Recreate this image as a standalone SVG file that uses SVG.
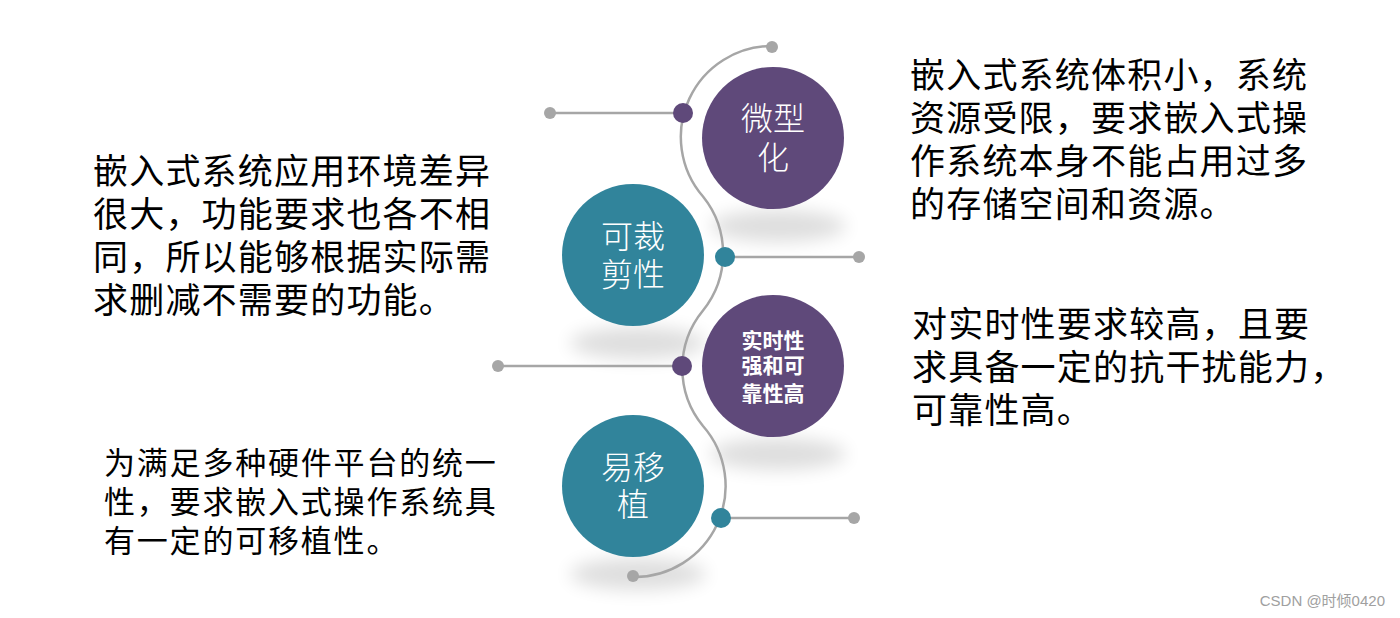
<svg xmlns="http://www.w3.org/2000/svg" width="1400" height="618" viewBox="0 0 1400 618">
<defs>
<filter id="blur" x="-50%" y="-100%" width="200%" height="300%"><feGaussianBlur stdDeviation="9"/></filter>
<style>
.para{font-family:"Noto Sans CJK SC",sans-serif;fill:#000;font-size:35px;letter-spacing:1.2px;}
.para2{font-family:"Noto Sans CJK SC",sans-serif;fill:#000;font-size:31px;letter-spacing:1.8px;}
.ctext{font-family:"Noto Sans CJK SC",sans-serif;fill:#fff;font-size:32px;text-anchor:middle;font-weight:300;}
.csmall{font-family:"Noto Sans CJK SC",sans-serif;fill:#fff;font-size:21px;text-anchor:middle;font-weight:bold;}
.purple{fill:#5F497A;}
.teal{fill:#31849B;}
.gline{stroke:#A6A6A6;stroke-width:2.5;fill:none;}
.gdot{fill:#A6A6A6;}
.shadow{fill:#000;opacity:0.13;filter:url(#blur);}
.wm{font-family:"Liberation Sans","Noto Sans CJK SC",sans-serif;fill:#A0A0A0;font-size:15px;}
</style>
</defs>
<rect width="1400" height="618" fill="#fff"/>
<g id="shadows">
<ellipse class="shadow" cx="778" cy="226" rx="68" ry="16"/>
<ellipse class="shadow" cx="638" cy="343" rx="68" ry="16"/>
<ellipse class="shadow" cx="778" cy="454" rx="68" ry="16"/>
<ellipse class="shadow" cx="638" cy="574" rx="68" ry="16"/>
</g>
<g id="connectors">
<path class="gline" d="M773 46 A91 91 0 0 0 703 196.5 A91 91 0 0 1 703 310.5 A91 91 0 0 0 703 426 A91 91 0 0 1 633 577"/>
<line class="gline" x1="550" y1="113" x2="683" y2="113"/>
<line class="gline" x1="725" y1="257" x2="859" y2="257"/>
<line class="gline" x1="498" y1="366" x2="682" y2="366"/>
<line class="gline" x1="721" y1="518" x2="854" y2="518"/>
<circle class="gdot" cx="772" cy="47" r="6"/>
<circle class="gdot" cx="550" cy="113" r="6"/>
<circle class="gdot" cx="859" cy="257" r="6"/>
<circle class="gdot" cx="498" cy="366" r="6"/>
<circle class="gdot" cx="854" cy="518" r="6"/>
<circle class="gdot" cx="633" cy="576" r="6"/>
<circle class="purple" cx="683" cy="113" r="10"/>
<circle class="teal" cx="725" cy="257" r="10"/>
<circle class="purple" cx="682" cy="366" r="10"/>
<circle class="teal" cx="721" cy="518" r="10"/>
</g>
<g id="node-miniature">
<circle class="purple" cx="773" cy="138" r="71"/>
<text class="ctext"><tspan x="773" y="130">微型</tspan><tspan x="773" y="169">化</tspan></text>
</g>
<g id="node-tailorable">
<circle class="teal" cx="633" cy="255" r="71"/>
<text class="ctext"><tspan x="633" y="248">可裁</tspan><tspan x="633" y="286">剪性</tspan></text>
</g>
<g id="node-realtime">
<circle class="purple" cx="773" cy="366" r="71"/>
<text class="csmall"><tspan x="773" y="348">实时性</tspan><tspan x="773" y="373">强和可</tspan><tspan x="773" y="401">靠性高</tspan></text>
</g>
<g id="node-portable">
<circle class="teal" cx="633" cy="486" r="71"/>
<text class="ctext"><tspan x="633" y="479">易移</tspan><tspan x="633" y="516">植</tspan></text>
</g>
<g id="text-miniature">
<text class="para"><tspan x="910" y="88">嵌入式系统体积小，系统</tspan><tspan x="910" y="131">资源受限，要求嵌入式操</tspan><tspan x="910" y="174">作系统本身不能占用过多</tspan><tspan x="910" y="217">的存储空间和资源。</tspan></text>
</g>
<g id="text-tailorable">
<text class="para"><tspan x="93" y="184">嵌入式系统应用环境差异</tspan><tspan x="93" y="227">很大，功能要求也各不相</tspan><tspan x="93" y="270">同，所以能够根据实际需</tspan><tspan x="93" y="313">求删减不需要的功能。</tspan></text>
</g>
<g id="text-realtime">
<text class="para"><tspan x="912" y="337">对实时性要求较高，且要</tspan><tspan x="912" y="380">求具备一定的抗干扰能力，</tspan><tspan x="912" y="423">可靠性高。</tspan></text>
</g>
<g id="text-portable">
<text class="para2"><tspan x="104" y="474">为满足多种硬件平台的统一</tspan><tspan x="104" y="513">性，要求嵌入式操作系统具</tspan><tspan x="104" y="552">有一定的可移植性。</tspan></text>
</g>
<text class="wm" x="1385" y="606" text-anchor="end">CSDN @时倾0420</text>
</svg>
